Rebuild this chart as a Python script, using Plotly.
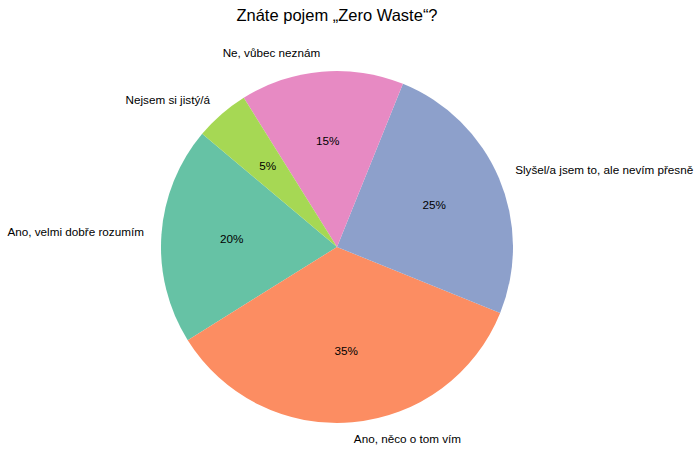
import numpy as np
import plotly.graph_objects as go

# Data
labels = ["Ano, velmi dobře rozumím", "Ano, něco o tom vím",
          "Slyšel/a jsem to, ale nevím přesně", "Ne, vůbec neznám",
          "Nejsem si jistý/á"]
values = [20, 35, 25, 15, 5]
colors = ["#66c2a5", "#fc8d62", "#8da0cb", "#e78ac3", "#a6d854"]

title = "Znáte pojem „Zero Waste“?"

W, H = 700, 453
cx, cy, r = 337, 247, 176   # pie centre / radius in px
start_angle = 140           # like matplotlib startangle

# slice angles (degrees, counterclockwise from the start angle)
frac = np.array(values) / sum(values)
width = frac * 360
mid = (np.cumsum(frac) - frac / 2) * 360
pct_txt = ["%d%%" % round(f * 100) for f in frac]
# labels left/right aligned depending on side of the pie
side = np.cos(np.radians(mid + start_angle))
lbl_pos = ["middle right" if s >= 0 else "middle left" for s in side]

rmax = 1.1
dom = dict(x=[(cx - r * rmax) / W, (cx + r * rmax) / W],
           y=[1 - (cy + r * rmax) / H, 1 - (cy - r * rmax) / H])

wedges = go.Barpolar(r=[1] * len(values), theta=mid, width=width, base=0,
                     marker=dict(color=colors, line=dict(width=0)),
                     customdata=labels, hovertemplate="%{customdata}<extra></extra>",
                     showlegend=False)

pcts = go.Scatterpolar(r=[0.6] * len(values), theta=mid, mode="text",
                       text=pct_txt, textposition="middle center",
                       textfont=dict(color="black", size=11.7),
                       cliponaxis=False, hoverinfo="skip", showlegend=False)

outer = go.Scatterpolar(r=[rmax] * len(values), theta=mid, mode="text",
                        text=labels, textposition=lbl_pos,
                        textfont=dict(color="black", size=11.7),
                        cliponaxis=False, hoverinfo="skip", showlegend=False)

fig = go.Figure([wedges, pcts, outer])
fig.update_layout(
    width=W, height=H,
    margin=dict(l=0, r=0, t=0, b=0),
    paper_bgcolor="white",
    font=dict(family="Liberation Sans, Arial, sans-serif", color="black"),
    title=dict(text=title, x=337/W, xanchor="center", y=1-15/H, yanchor="middle",
               font=dict(size=16.5, color="black")),
    polar=dict(domain=dom, bgcolor="rgba(0,0,0,0)", hole=0,
               bargap=0,
               radialaxis=dict(range=[0, rmax], visible=False),
               angularaxis=dict(rotation=start_angle, direction="counterclockwise",
                                visible=False)),
)
fig.write_html("out.html", config={"displayModeBar": False},
               post_script="document.body.style.margin='0';")
